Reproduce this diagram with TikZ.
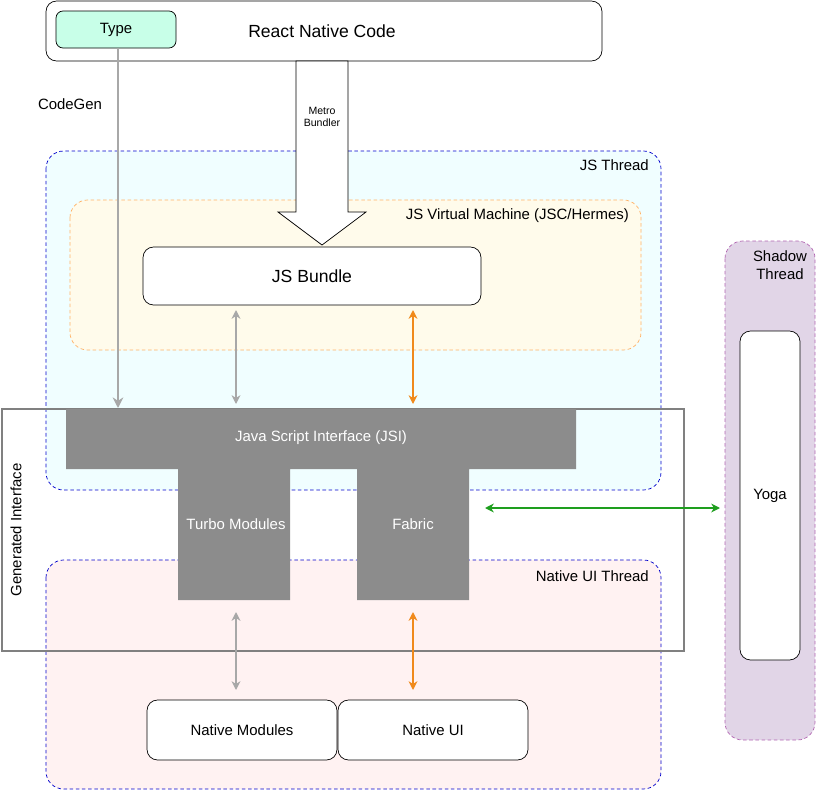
\documentclass[tikz,border=0pt]{standalone}
\usepackage{fontspec}
\setmainfont{Liberation Sans}
\usetikzlibrary{arrows.meta}
\definecolor{mint}{HTML}{C8FFE8}
\definecolor{jscyan}{HTML}{F0FEFF}
\definecolor{vmyellow}{HTML}{FFFBEB}
\definecolor{uipink}{HTML}{FFF2F2}
\definecolor{shadowlilac}{HTML}{E1D5E7}
\definecolor{jsigray}{HTML}{8C8C8C}
\definecolor{arrowgray}{HTML}{A8A8A8}
\definecolor{arroworange}{HTML}{F08A1C}
\definecolor{arrowgreen}{HTML}{1E9E1E}
\tikzset{
  box/.style={draw=black, fill=white, rounded corners=6pt},
  thread/.style={draw=blue!80!black, dash pattern=on 2pt off 1.5pt, rounded corners=10pt},
  biarrow/.style={{Stealth[width=5pt,length=5pt]}-{Stealth[width=5pt,length=5pt]}, line width=1pt},
  label/.style={font=\fontsize{8.5}{10}\selectfont}
}
\begin{document}
\begin{tikzpicture}[x=0.02cm, y=-0.02cm]
    \useasboundingbox (0, 0) rectangle (816, 791);
    % threads
    \draw[thread, fill=jscyan] (46, 151) rectangle (661, 490);
    \node[label, anchor=east] (jsthread) at (655, 165) {JS Thread};
    \draw[thread, draw=orange!60, fill=vmyellow] (70, 200) rectangle (641, 350);
    \node[label, anchor=east] (jsvm) at (635, 216) {JS Virtual Machine (JSC/Hermes)};
    \draw[thread, fill=uipink] (46, 560) rectangle (661, 789);
    \node[label, anchor=east] (uithread) at (655, 576) {Native UI Thread};
    \draw[thread, draw=violet!60, fill=shadowlilac] (725, 241) rectangle (815, 740);
    \node[label, align=center] (shadow) at (780, 265) {Shadow\\Thread};
    % source
    \draw[box] (46, 1) rectangle (602, 61);
    \node[font=\fontsize{10}{11}\selectfont] (rn) at (322, 31) {React Native Code};
    \draw[box, fill=mint, rounded corners=4pt] (56, 11) rectangle (176, 48);
    \node[label] (type) at (116, 30) {Type};
    \node[label] (codegen) at (70, 104) {CodeGen};
    % metro bundler
    \draw[fill=white] (296, 61) -- (348, 61) -- (348, 212) -- (366, 212) -- (322, 245)
        -- (278, 212) -- (296, 212) -- cycle;
    \node[font=\fontsize{6}{7}\selectfont, align=center, fill=white, inner sep=1pt] (metro) at (322, 117) {Metro\\Bundler};
    \draw[box] (143, 247) rectangle (481, 305);
    \node[font=\fontsize{10}{11}\selectfont] (bundle) at (312, 276) {JS Bundle};
    % generated interface
    \draw[line width=1.6pt, draw=gray] (2, 409) rectangle (684, 651);
    \node[label, rotate=90] (gen) at (16, 530) {Generated Interface};
    \fill[jsigray] (66, 409) -- (576, 409) -- (576, 469) -- (469, 469) -- (469, 600)
        -- (357, 600) -- (357, 469) -- (290, 469) -- (290, 600) -- (178, 600)
        -- (178, 469) -- (66, 469) -- cycle;
    \node[label, text=white] (jsi) at (321, 438) {Java Script Interface (JSI)};
    \node[label, text=white] (turbo) at (236, 524) {Turbo Modules};
    \node[label, text=white] (fabric) at (413, 524) {Fabric};
    % shadow
    \draw[box] (740, 331) rectangle (800, 660);
    \node[label] (yoga) at (770, 496) {Yoga};
    % native
    \draw[box] (147, 700) rectangle (337, 760);
    \node[label] (nmod) at (242, 730) {Native Modules};
    \draw[box] (338, 700) rectangle (528, 760);
    \node[label] (nui) at (433, 730) {Native UI};
    % arrows
    \coordinate (cgtop) at (118, 48);
    \coordinate (cgbot) at (118, 408);
    \draw[-{Stealth[width=6pt,length=6pt]}, line width=1.5pt, arrowgray] (cgtop) -- (cgbot);
    \coordinate (g1) at (236, 310); \coordinate (g2) at (236, 404);
    \coordinate (o1) at (413, 310); \coordinate (o2) at (413, 404);
    \coordinate (g3) at (236, 612); \coordinate (g4) at (236, 690);
    \coordinate (o3) at (413, 612); \coordinate (o4) at (413, 690);
    \coordinate (f1) at (485, 508); \coordinate (f2) at (720, 508);
    \draw[biarrow, arrowgray] (g1) -- (g2);
    \draw[biarrow, arroworange] (o1) -- (o2);
    \draw[biarrow, arrowgray] (g3) -- (g4);
    \draw[biarrow, arroworange] (o3) -- (o4);
    \draw[biarrow, arrowgreen] (f1) -- (f2);
\end{tikzpicture}
\end{document}
